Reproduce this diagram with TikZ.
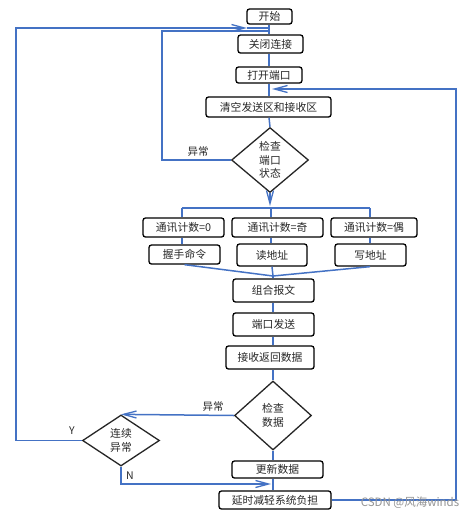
\documentclass[tikz,border=0pt]{standalone}
\usepackage{fontspec}
\setmainfont{Noto Sans CJK SC}
\usetikzlibrary{shapes.geometric,arrows.meta}
\definecolor{flow}{RGB}{68,114,196}
\definecolor{txt}{RGB}{40,40,40}
\begin{document}
\begin{tikzpicture}[x=1pt,y=-1pt,
  box/.style={draw=black,line width=1.3pt,rounded corners=2.5pt,fill=white,inner sep=0pt,text=txt,font=\fontsize{10.8}{13}\selectfont},
  dia/.style={draw=black!85,line width=1.3pt,diamond,fill=white,inner sep=0pt,text=txt,align=center,font=\fontsize{10.8}{13.5}\selectfont},
  conn/.style={draw=flow,line width=1.5pt},
  arr/.style={conn,-{Straight Barb[length=13pt,width=7pt,line width=1.3pt]}},
  lbl/.style={text=txt,font=\fontsize{10.5}{12}\selectfont,inner sep=0pt}]
\useasboundingbox (0,0) rectangle (474,515);
% nodes
\node[box,minimum width=45,minimum height=15] (start) at (269.5,16.5) {开始};
\node[box,minimum width=65,minimum height=18] (close) at (270.5,44) {关闭连接};
\node[box,minimum width=66,minimum height=16] (open) at (269,75) {打开端口};
\node[box,minimum width=125,minimum height=20] (clear) at (268.5,107) {清空发送区和接收区};
\node[dia,minimum width=77,minimum height=65] (d1) at (270,160) {检查\\端口\\状态};
\node[box,minimum width=81,minimum height=19] (c0) at (183.5,227.5) {通讯计数=0};
\node[box,minimum width=91,minimum height=19] (codd) at (277.5,227.5) {通讯计数=奇};
\node[box,minimum width=86,minimum height=19] (ceven) at (374,227.5) {通讯计数=偶};
\node[box,minimum width=71,minimum height=19] (hs) at (184.5,254.5) {握手命令};
\node[box,minimum width=70,minimum height=22] (rd) at (272,255) {读地址};
\node[box,minimum width=71,minimum height=22] (wr) at (370.5,255) {写地址};
\node[box,minimum width=81,minimum height=23] (comb) at (273.5,290.5) {组合报文};
\node[box,minimum width=81,minimum height=23] (send) at (273.5,324.5) {端口发送};
\node[box,minimum width=88,minimum height=23] (recv) at (270,357.5) {接收返回数据};
\node[dia,minimum width=77,minimum height=69] (d2) at (273,415.5) {检查\\数据};
\node[dia,minimum width=77,minimum height=51] (d3) at (121,440.5) {连续\\异常};
\node[box,minimum width=91,minimum height=17] (upd) at (277.5,469.5) {更新数据};
\node[box,minimum width=112,minimum height=18] (delay) at (275,500) {延时减轻系统负担};
% coordinates
\coordinate (j1) at (269,28);
\coordinate (j1a) at (247,28);
\coordinate (j2) at (269,31);
\coordinate (j3) at (272,89);
\coordinate (barL) at (182,208);
\coordinate (barR) at (370,208);
\coordinate (barM) at (271,208);
\coordinate (merge) at (273,276);
\coordinate (nEnd) at (271,484);
\coordinate (nBend) at (121,484);
\coordinate (yBend) at (16,440.5);
\coordinate (yTop) at (16,28);
\coordinate (aBend) at (162,160);
\coordinate (aTop) at (162,31);
\coordinate (rBend) at (456,500);
\coordinate (rTop) at (456,89);
% main line
\draw[conn] (start.south -| j1) -- (close.north -| j1);
\draw[conn] (close.south -| j1) -- (open.north -| j1);
\draw[conn] (open.south -| j1) -- (clear.north -| j1);
\draw[conn] (clear.south -| j1) -- (d1.north);
\draw[arr] (d1.south) -- (d1.south |- 0,206);
\draw[conn] (barL) -- (barR);
\draw[conn] (barL) -- (c0.north -| barL);
\draw[conn] (barM) -- (codd.north -| barM);
\draw[conn] (barR) -- (ceven.north -| barR);
\draw[conn] (c0.south -| barL) -- (hs.north -| barL);
\draw[conn] (codd.south -| barM) -- (rd.north -| barM);
\draw[conn] (ceven.south -| barR) -- (wr.north -| barR);
\draw[conn] (hs.south) -- (merge);
\draw[conn] (rd.south) -- (merge);
\draw[conn] (wr.south -| barR) -- (merge);
\draw[conn] (merge) -- (comb.north -| merge);
\draw[conn] (comb.south -| merge) -- (send.north -| merge);
\draw[conn] (send.south -| merge) -- (recv.north -| merge);
\draw[conn] (recv.south -| merge) -- (d2.north);
\draw[conn] (d2.south) -- (upd.north -| d2.south);
\draw[conn] (upd.south -| d2.south) -- (delay.north -| d2.south);
% loops
\draw[arr] (d3.west) -- (yBend) -- (yTop) -- (j1a);
\draw[conn] (j1a) -- (j1);
\draw[conn] (d1.west) -- (aBend) -- (aTop) -- (j2);
\draw[arr] (delay.east) -- (rBend) -- (rTop) -- (j3);
\draw[arr] (d2.west) -- (d3.north);
\draw[arr] (d3.south) -- (nBend) -- (nEnd);
% labels
\node[lbl] (l1) at (198,152) {异常};
\node[lbl] (l2) at (213,407) {异常};
\node[lbl] (ly) at (72,431) {Y};
\node[lbl] (ln) at (130,476) {N};
\node[text=black!42,font=\fontsize{11.5}{13}\selectfont,inner sep=0pt] (wm) at (410,502.5) {CSDN @风海winds};
\end{tikzpicture}
\end{document}
